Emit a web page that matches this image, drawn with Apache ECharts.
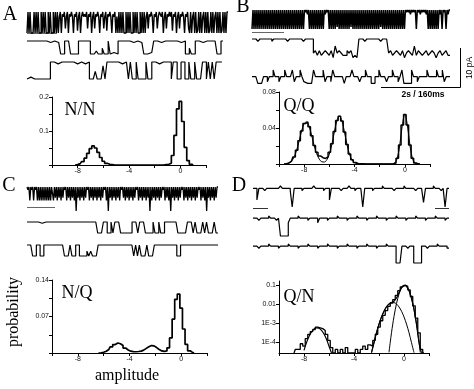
<!DOCTYPE html>
<html><head><meta charset="utf-8">
<script src="https://cdn.jsdelivr.net/npm/echarts@6.0.0/dist/echarts.min.js"></script>
<style>html,body{margin:0;padding:0;background:#fff}#c{width:474px;height:389px}</style>
</head><body><div id="c"></div>
<script>
// ---------------- data ----------------
const binW = 0.2;
const xTickLabels = ['-8', '-4', '0'];

// N/N histogram (panel A)
const histA_start = -8.2;
const histA = [0,0.001,0.004,0.010,0.020,0.034,0.048,0.056,0.050,0.037,0.022,0.011,0.005,0.002,0.001,0,
  0,0,0,0,0,0,0,0,0,0,0,0,0,0,0,0,0,0,0,
  0.001,0.002,0.005,0.028,0.087,0.165,0.187,0.128,0.052,0.013,0.002,0];
const yTicksA = ['0.1', '0.2'];

// Q/Q histogram + fit (panel B)
const histB_start = -9.6;
const histB = [0,0.0004,0.0012,0.0033,0.0077,0.0153,0.0257,0.0368,0.0449,0.0468,
  0.0415,0.0314,0.0205,0.0130,0.0090,0.0070,0.0062,0.0080,0.0130,0.0225,
  0.0360,0.0482,0.0530,0.0478,0.0355,0.0218,0.0110,0.0046,0.0016,0.0006,0.0003,0.0003,
  0,0,0,0,0,0,0,0,0,0,0,
  0.0002,0.0012,0.0065,0.0212,0.0434,0.0550,0.0434,0.0212,0.0065,0.0012,0.0001,0];
const fitB = [0.0001,0.0004,0.0012,0.0033,0.0077,0.0153,0.0257,0.0368,0.0449,0.0468,
  0.0415,0.0314,0.0203,0.0112,0.0054,0.0025,0.0022,0.0046,0.0109,0.0218,
  0.0357,0.0480,0.0530,0.0480,0.0357,0.0218,0.0109,0.0045,0.0015,0.0004,
  0,0,0,0,0,0,0,0,0,0,0,0,0,
  0.0001,0.0012,0.0065,0.0212,0.0434,0.0550,0.0434,0.0212,0.0065,0.0012,0.0001,0];
const yTicksB = ['0.04', '0.08'];

// N/Q histogram (panel C)
const histC_start = -6.4;
const histC = [0,0.0004,0.0013,0.0035,0.0068,0.0117,0.0162,0.0192,0.0178,0.0143,
  0.0095,0.0058,0.0035,0.0027,0.0024,0.0029,0.0036,0.0055,0.0088,0.0121,
  0.0143,0.0136,0.0104,0.0068,0.0040,0.0030,0.0040,0.0100,0.0290,0.0650,
  0.1030,0.1130,0.0860,0.0460,0.0165,0.0042,0.0008,0];
const yTicksC = ['0.07', '0.14'];

// Q/N histogram, log scale (panel D)
const histD_start = -8.8;
const histD = [2.6e-5,4e-5,4e-5,8e-5,6e-5,1.5e-4,2.5e-4,3.5e-4,4.5e-4,6e-4,
  5.5e-4,5e-4,4e-4,2.5e-4,1.2e-4,5e-5,2.6e-5,4e-5,2.6e-5,4e-5,
  2.6e-5,5e-5,2.6e-5,2.6e-5,2.6e-5,4e-5,2.6e-5,4e-5,6e-5,4e-5,
  7e-5,6e-5,1.2e-4,2.5e-4,6e-4,1.3e-3,2.5e-3,4.5e-3,7.5e-3,1.1e-2,
  1.7e-2,2.8e-2,5e-2,8e-2,9.8e-2,8.5e-2,5.5e-2,2.5e-2,8e-3,1.8e-3,
  3e-4,4e-5,2.6e-5];
const fitD1_start = -1.2, fitD1_step = 0.1;
const fitD1 = [2.8e-5,9.7e-5,3.05e-4,8.6e-4,2.2e-3,5.1e-3,0.0105,0.0196,0.0331,0.0502,0.0686,0.0845,0.0938,
  0.0938,0.0845,0.0686,0.0502,0.0331,0.0196,0.0105,5.1e-3,2.2e-3,8.6e-4,3.05e-4,9.7e-5,2.8e-5];
const fitD2_start = -2.6, fitD2_step = 0.2;
const fitD2 = [2.7e-5,9.1e-5,3.06e-4,8.7e-4,2.07e-3,4.14e-3,6.98e-3,9.87e-3,0.01174,0.01174,
  9.87e-3,6.98e-3,4.14e-3,2.07e-3,8.7e-4,3.06e-4,9.1e-5,2.7e-5];
const fitDsum_start = -2.6, fitDsum_step = 0.2;
const fitDsum = [2.7e-5,9.1e-5,3.06e-4,8.7e-4,2.07e-3,4.14e-3,6.98e-3,9.9e-3,0.01205,0.01394,
  0.0204,0.0401,0.0727,0.0959,0.0854,0.0505,0.0197,5.1e-3,8.6e-4,9.7e-5,2.6e-5];
const fitD3_start = -8.0, fitD3_step = 0.2;
const fitD3 = [3.6e-5,9.2e-5,1.94e-4,3.34e-4,4.71e-4,5.47e-4,5.2e-4,4.07e-4,2.6e-4,1.37e-4,5.9e-5,2.6e-5];
const yTicksD = ['0.1', '0.01', '1E-3', '1E-4'];

// current traces: one digit per time sample, 0 = closed level (top), 9 = deepest level
const traceA1 = "90909990909099090909909099090909" + "20912072091202912082092021" + "20712092071202912072081202912092" +
  "9090909909090990909099090909" + "2071202912072012092071202081209207120291207" + "90920909809092090909809092090909809090";
const traceA2 = "00100010000100010" + "99" + "000" + "9999" + "001000" + "999799599" + "0" + "9899" + "0010000100010" + "99989" + "0001000010000100" + "99599" + "00010000100" + "990";
const traceA3 = "989999899999" + "00010000100001000100" + "999599929" + "00100001000" + "909909999099" + "0001000010" + "90099009909909990090909" + "000";
const traceB1 = "909090909090909090909090909090909090909090909090909090" + "1020" + "9090909090909090" + "2010" +
  "909090908090909090909080909090909090909090909090909080909090909090909090909090" + "1010201010901020101020" + "909090909090" + "2090109020";
const traceB2 = "0001000000100000001000000010000" + "65757656758365677565878" + "000100000001000" + "6576567586567375676576568657657";
const traceB3 = "4448884474404474404440744047888804444074470444448444044474404488440444744044740888804474444044440440744";
const traceC1 = "0105010501050" + "50505050505050" +
  "0504050405040105040504050904050405040105040504050405040105090405040504050104050405040504010504050405040905040504050401050405090405040504010504050405040504010504050904050405040";
const traceC2 = "0000000100000000000010000000000000000" + "999" + "00" + "9909" + "000" + "999999" + "00090009" + "999099099" + "0000000" + "99999" + "000" + "9099909099909";
const traceC3 = "0009900" + "990" + "0000000000" + "999" + "0" + "99" + "00" + "9999" + "5959" + "99" + "0000000000000000000" + "9090" + "9990999" + "000000000000" + "99" + "00000000000000000000";
const traceD1 = "1161112111" + "1111011112" + "9111121111" + "1011112116" + "1111121110" + "1121119111" + "1211110111" + "1121111011" + "1112111711" + "1101112191";
const traceD2 = "11121111011121" + "9999" + "31" + "1110111121111" + "3" + "111121111011112111101111211110111121111011112111101111211110111121";
const traceD3 = "1112111101111211110111121111011112111101111211110111121111011112111101111" + "999" + "111211" + "9999" + "11121111011112";

// ---------------- chart ----------------
const grids = [], xAxes = [], yAxes = [], series = [];
const tickFont = {fontFamily: "'Liberation Sans', Arial, sans-serif", fontSize: 7, color: '#111'};
const serif = "'Liberation Serif', 'Times New Roman', serif";

function addGrid(g, xa, ya) {
  grids.push(Object.assign({containLabel: false}, g));
  const k = grids.length - 1;
  xa.gridIndex = k; ya.gridIndex = k;
  xAxes.push(xa); yAxes.push(ya);
  return k;
}
function binned(start, step, arr) {
  return arr.map((v, i) => [+(start + i * step).toFixed(3), v]);
}
function histX() {
  return {type: 'value', min: -10, max: 2, interval: 2,
    axisLine: {show: true, onZero: false, lineStyle: {color: '#000', width: 1}},
    axisTick: {show: true, length: 3, lineStyle: {color: '#000'}},
    splitLine: {show: false},
    axisLabel: Object.assign({}, tickFont, {margin: 3,
      formatter: v => (xTickLabels.indexOf(String(v)) >= 0 ? String(v) : '')})};
}
function histY(max, interval, labels) {
  return {type: 'value', min: 0, max: max, interval: interval,
    axisLine: {show: true, onZero: false, lineStyle: {color: '#000', width: 1}},
    axisTick: {show: true, length: 3, lineStyle: {color: '#000'}},
    splitLine: {show: false},
    axisLabel: Object.assign({}, tickFont, {margin: 3,
      formatter: v => { const t = labels.find(s => Math.abs(Number(s) - v) < 1e-7); return t || ''; }})};
}
function histSeries(k, data, w) {
  series.push({type: 'line', xAxisIndex: k, yAxisIndex: k, data: data, step: 'middle',
    symbol: 'none', lineStyle: {color: '#000', width: w}, silent: true, animation: false});
}
function fitSeries(k, data, w) {
  series.push({type: 'line', xAxisIndex: k, yAxisIndex: k, data: data, smooth: 0.35,
    symbol: 'none', lineStyle: {color: '#000', width: w}, silent: true, animation: false});
}

// histograms
const gA = addGrid({left: 52, top: 97, width: 154, height: 68}, histX(), histY(0.2, 0.05, yTicksA));
histSeries(gA, binned(histA_start, binW, histA), 1.7);

const gB = addGrid({left: 279, top: 92, width: 151, height: 72}, histX(), histY(0.08, 0.02, yTicksB));
fitSeries(gB, binned(histB_start, binW, fitB), 1);
histSeries(gB, binned(histB_start, binW, histB), 1.5);

const gC = addGrid({left: 52, top: 280, width: 155, height: 73}, histX(), histY(0.14, 0.035, yTicksC));
histSeries(gC, binned(histC_start, binW, histC), 1.7);

const yD = {type: 'log', logBase: 10, min: 2.6e-5, max: 0.162,
  axisLine: {show: true, onZero: false, lineStyle: {color: '#000', width: 1}},
  axisTick: {show: true, length: 3, lineStyle: {color: '#000'}},
  minorTick: {show: false}, splitLine: {show: false},
  axisLabel: Object.assign({}, tickFont, {margin: 3, showMinLabel: false, showMaxLabel: false,
    formatter: v => { const t = yTicksD.find(s => { const n = s.indexOf('E') >= 0 ? Math.pow(10, Number(s.split('E')[1])) : Number(s); return Math.abs(Math.log10(n) - Math.log10(v)) < 1e-4; }); return t || ''; }})};
const gD = addGrid({left: 279, top: 281, width: 150, height: 72}, histX(), yD);
histSeries(gD, binned(histD_start, binW, histD), 1.3);
fitSeries(gD, binned(fitDsum_start, fitDsum_step, fitDsum), 1.2);
fitSeries(gD, binned(fitD1_start, fitD1_step, fitD1), 1);
fitSeries(gD, binned(fitD2_start, fitD2_step, fitD2), 1);
fitSeries(gD, binned(fitD3_start, fitD3_step, fitD3), 1.2);

// traces
function addTrace(str, left, top, width, height, w) {
  const d = str.split('').map(Number);
  const data = d.map((v, i) => [i, v]);
  data.push([d.length, d[d.length - 1]]);
  const k = addGrid({left: left, top: top, width: width, height: height},
    {type: 'value', min: 0, max: d.length, show: false},
    {type: 'value', min: 0, max: 9, inverse: true, show: false});
  series.push({type: 'line', xAxisIndex: k, yAxisIndex: k, data: data, step: 'end',
    symbol: 'none', lineStyle: {color: '#000', width: w || 1.2}, silent: true, animation: false, clip: false});
}
addTrace(traceA1, 27, 12, 201, 21, 1.4);
addTrace(traceA2, 27, 41, 196, 13);
addTrace(traceA3, 27, 62, 195, 17);
addTrace(traceB1, 252, 10, 198, 19, 1.5);
addTrace(traceB2, 252, 39, 198, 21);
addTrace(traceB3, 252, 70, 198, 15);
addTrace(traceC1, 27, 187, 191, 24, 1.3);
addTrace(traceC2, 27, 222, 191, 11);
addTrace(traceC3, 27, 245, 191, 11);
addTrace(traceD1, 253, 186, 196, 21);
addTrace(traceD2, 253, 216, 196, 20);
addTrace(traceD3, 253, 244, 196, 19);

function txt(t, x, y, font, rot) {
  return {type: 'text', x: x, y: y, rotation: rot || 0, silent: true,
    style: {text: t, font: font, fill: '#000', align: 'center', verticalAlign: 'middle'}};
}
function ln(x1, y1, x2, y2, c) {
  return {type: 'line', silent: true, shape: {x1: x1, y1: y1, x2: x2, y2: y2},
    style: {stroke: c || '#000', lineWidth: 1}};
}
const graphic = [
  txt('A', 10, 15, '20px ' + serif), txt('B', 243, 7, '20px ' + serif),
  txt('C', 9, 186, '20px ' + serif), txt('D', 239, 186, '20px ' + serif),
  txt('N/N', 80, 110, '18px ' + serif), txt('Q/Q', 299, 106, '18px ' + serif),
  txt('N/Q', 77, 293, '18px ' + serif), txt('Q/N', 299, 297, '18px ' + serif),
  txt('probability', 14, 312, '16px ' + serif, Math.PI / 2),
  txt('amplitude', 127, 376, '16px ' + serif),
  txt('2s / 160ms', 423, 95, "bold 8.5px 'Liberation Sans', Arial, sans-serif"),
  txt('10 pA', 470, 68, "8.5px 'Liberation Sans', Arial, sans-serif", Math.PI / 2),
  ln(27, 33.5, 57, 33.5, '#666'), ln(252, 32.5, 284, 32.5, '#666'),
  ln(27, 207.5, 55, 207.5, '#666'), ln(253, 208.5, 268, 208.5, '#333'), ln(435, 208.5, 449, 208.5, '#333'),
  ln(460.5, 48, 460.5, 87.5), ln(381, 87.5, 460.5, 87.5)
];

const chart = echarts.init(document.getElementById('c'));
chart.setOption({animation: false, backgroundColor: '#fff', grid: grids, xAxis: xAxes, yAxis: yAxes,
  series: series, graphic: graphic});
</script></body></html>
